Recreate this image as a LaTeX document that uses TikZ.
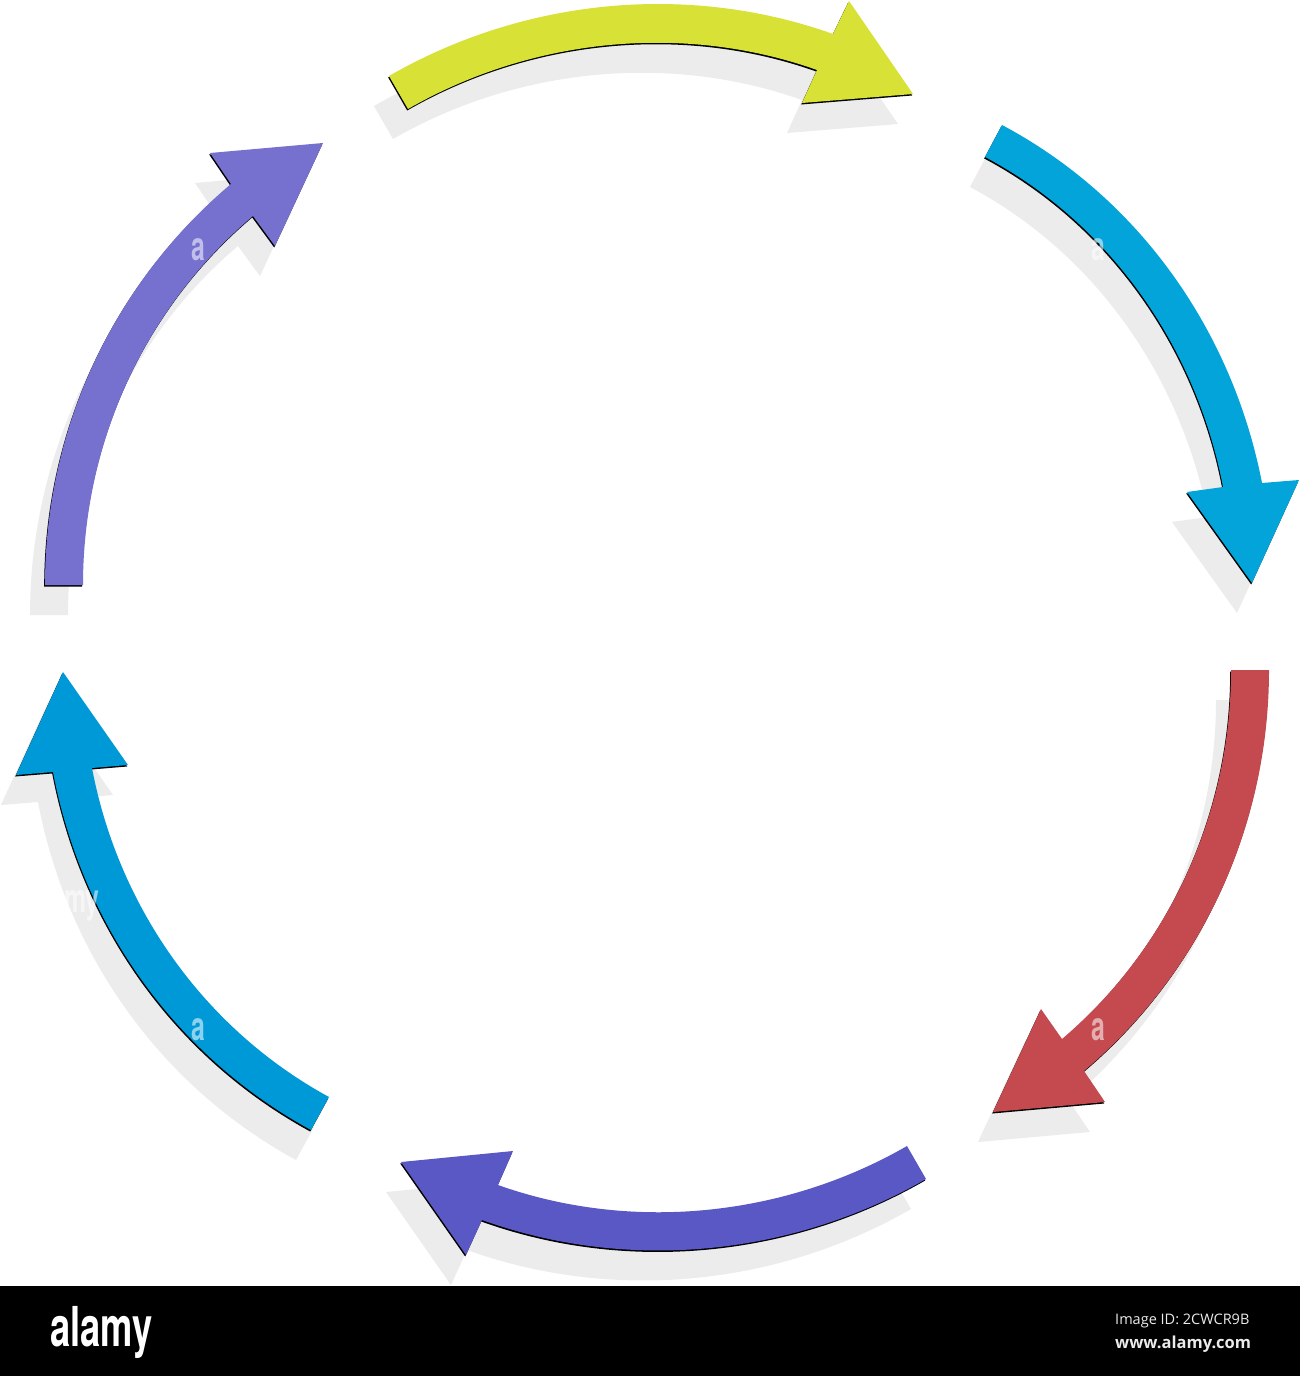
\documentclass[tikz,border=0pt]{standalone}
\usepackage{fontspec}
\usetikzlibrary{calc}
\setmainfont{Open Sans}
\newfontfamily\logofont{TeX Gyre Heros}
\definecolor{shadowgray}{HTML}{ECECEC}
\definecolor{ayellow}{HTML}{D7E136}
\definecolor{ablueA}{HTML}{03A4D9}
\definecolor{ared}{HTML}{C44A4F}
\definecolor{aviolet}{HTML}{5A58C4}
\definecolor{ablueB}{HTML}{0099D8}
\definecolor{apurple}{HTML}{7670CF}
\def\hO{155pt}\def\hI{142pt}
\newcommand{\ringpath}{(ao) .. controls ($(ao)!\hO!90:(ai)$) and ($(no)!\hO!-25:(ao)$) .. (no)
  -- (ha) -- (ht) -- (hb) -- (ni)
  .. controls ($(ni)!\hI!-25:(ai)$) and ($(ai)!\hI!-90:(ao)$) .. (ai) -- cycle}
% colour, tail outer, tail inner, notch outer, head outer, tip, head inner, notch inner
\newcommand{\ringarrow}[8]{%
  \coordinate (ao) at #2; \coordinate (ai) at #3; \coordinate (no) at #4;
  \coordinate (ha) at #5; \coordinate (ht) at #6; \coordinate (hb) at #7; \coordinate (ni) at #8;
  \fill[shadowgray,transform canvas={shift={(-15pt,-30pt)}}] \ringpath;
  \fill[black,transform canvas={shift={(-0.8pt,-1.5pt)}}] \ringpath;
  \fill[#1] \ringpath;
}
\tikzset{
  wm/.style={white,opacity=0.55,inner sep=0pt,font=\logofont\bfseries\fontsize{40}{40}\selectfont},
  logo/.style={white,inner sep=0pt,anchor=base west},
  idtext/.style={white!92!black,inner sep=0pt,anchor=base west}
}
\begin{document}
\begin{tikzpicture}[x=1pt,y=-1pt]
\useasboundingbox (0,0) rectangle (1300,1376);
\fill[white] (0,0) rectangle (1300,1376);
\ringarrow{ayellow}{(389,76)}{(408,109)}{(833,34)}{(849,1)}{(913,94)}{(802,103)}{(817,70)}
\ringarrow{ablueA}{(1002,125)}{(985,157)}{(1262,483)}{(1299,480)}{(1252,583)}{(1187,492)}{(1223,487)}
\ringarrow{ared}{(1269,670)}{(1231,670)}{(1084,1071)}{(1105,1102)}{(993,1112)}{(1041,1009)}{(1062,1039)}
\ringarrow{aviolet}{(926,1179)}{(907,1146)}{(482,1220)}{(466,1255)}{(401,1162)}{(513,1151)}{(498,1185)}
\ringarrow{ablueB}{(311,1130)}{(329,1097)}{(53,772)}{(16,775)}{(63,672)}{(128,765)}{(92,768)}
\ringarrow{apurple}{(45,585)}{(83,585)}{(231,184)}{(210,153)}{(323,143)}{(275,246)}{(253,216)}
\node[wm] (wmA) at (198,250) {\scalebox{0.62}[1]{a}};
\node[wm] (wmB) at (1098,250) {\scalebox{0.62}[1]{a}};
\node[wm] (wmC) at (1098,1030) {\scalebox{0.62}[1]{a}};
\node[wm] (wmD) at (198,1030) {\scalebox{0.62}[1]{a}};
\node[wm] (wmE) at (82,906) {\scalebox{0.62}[1]{my}};
\fill[black] (0,1286) rectangle (1300,1376);
\node[logo,font=\logofont\bfseries\fontsize{55}{55}\selectfont] (brand) at (50,1346) {\scalebox{0.66}[1]{alamy}};
\node[idtext,font=\fontsize{14.5}{16}\selectfont] (imageid) at (1115,1324) {Image ID: 2CWCR9B};
\node[idtext,font=\bfseries\fontsize{16.5}{17}\selectfont] (site) at (1115,1348) {www.alamy.com};
\end{tikzpicture}
\end{document}
